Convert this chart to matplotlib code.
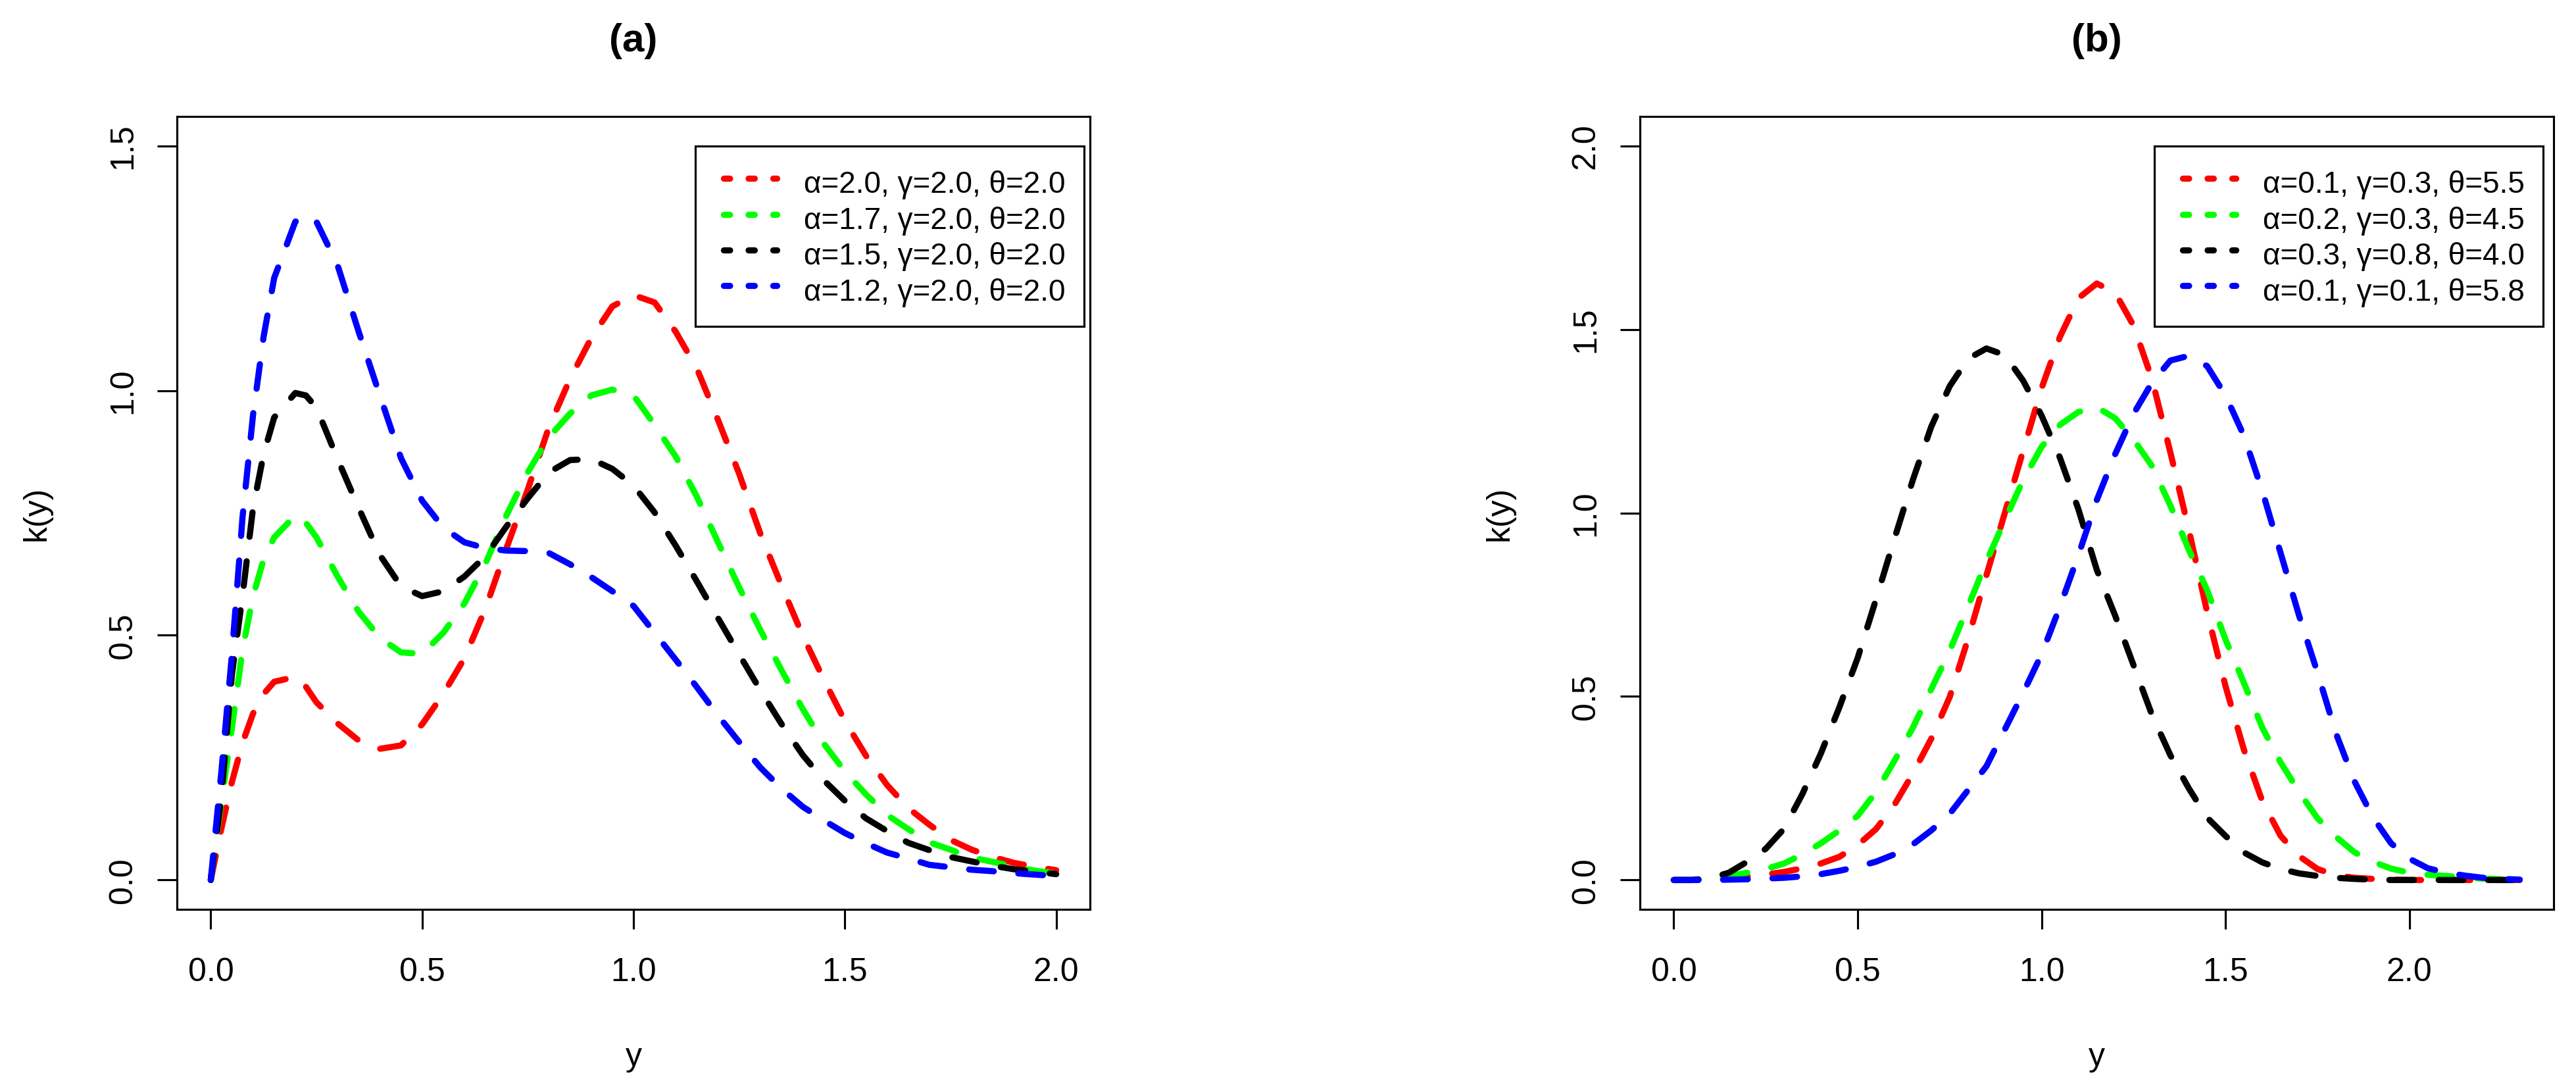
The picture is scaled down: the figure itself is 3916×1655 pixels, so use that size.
import matplotlib
matplotlib.use("Agg")
import matplotlib.pyplot as plt
from matplotlib.lines import Line2D
from matplotlib.ticker import FormatStrFormatter

plt.rcParams["font.family"] = ["Liberation Sans", "DejaVu Sans"]

# ---- panel (a) ----
x_a = [0.0, 0.025, 0.05, 0.075, 0.1, 0.125, 0.15,
       0.2, 0.225, 0.25, 0.3, 0.35, 0.4, 0.45, 0.5, 0.55, 0.6, 0.65, 0.7, 0.75,
       0.8, 0.85, 0.9, 0.95, 1.0, 1.05, 1.1, 1.15, 1.2, 1.25, 1.3, 1.35,
       1.4, 1.45, 1.5, 1.55, 1.6, 1.65, 1.7, 1.75, 1.8, 1.85, 1.9, 1.95, 2.0]
red_a = [0, 0.105, 0.2, 0.28, 0.34, 0.38, 0.405,
         0.415, 0.395, 0.363, 0.32, 0.285, 0.268, 0.275, 0.318, 0.38, 0.453, 0.555,
         0.679, 0.798, 0.925, 1.024, 1.107, 1.172, 1.195, 1.18, 1.12, 1.045,
         0.94, 0.83, 0.708, 0.602, 0.50, 0.41, 0.325, 0.254, 0.194, 0.147,
         0.113, 0.082, 0.062, 0.047, 0.035, 0.027, 0.02]
green_a = [0, 0.16, 0.31, 0.47, 0.58, 0.655, 0.70,
           0.745, 0.73, 0.70, 0.62, 0.548, 0.495, 0.465, 0.462, 0.505, 0.565, 0.647,
           0.746, 0.833, 0.905, 0.953, 0.99, 1.002, 0.99, 0.93, 0.865, 0.783,
           0.69, 0.598, 0.511, 0.429, 0.35, 0.279, 0.222, 0.175, 0.133, 0.104,
           0.077, 0.062, 0.046, 0.037, 0.027, 0.019, 0.013]
black_a = [0, 0.17, 0.42, 0.58, 0.76, 0.87, 0.945,
           0.995, 0.99, 0.965, 0.86, 0.76, 0.664, 0.60, 0.58, 0.59, 0.62, 0.662,
           0.723, 0.78, 0.833, 0.858, 0.86, 0.84, 0.806, 0.751, 0.683, 0.61,
           0.535, 0.461, 0.388, 0.319, 0.256, 0.204, 0.162, 0.126, 0.1, 0.076,
           0.061, 0.047, 0.038, 0.029, 0.022, 0.017, 0.012]
blue_a = [0, 0.22, 0.46, 0.74, 0.95, 1.11, 1.23,
          1.345, 1.357, 1.345, 1.256, 1.12, 0.99, 0.862, 0.775, 0.72, 0.69, 0.678,
          0.673, 0.672, 0.668, 0.645, 0.619, 0.59, 0.56, 0.505, 0.45, 0.394,
          0.336, 0.282, 0.23, 0.187, 0.15, 0.122, 0.096, 0.075, 0.056, 0.044,
          0.031, 0.026, 0.021, 0.018, 0.014, 0.011, 0.008]
labels_a = ["α=2.0, γ=2.0, θ=2.0", "α=1.7, γ=2.0, θ=2.0",
            "α=1.5, γ=2.0, θ=2.0", "α=1.2, γ=2.0, θ=2.0"]

# ---- panel (b) ----
x_b = [0.0, 0.05, 0.1, 0.15, 0.2, 0.25, 0.3, 0.35, 0.4, 0.45, 0.5, 0.55,
       0.6, 0.65, 0.7, 0.75, 0.8, 0.85, 0.9, 0.95, 1.0, 1.05, 1.1, 1.15,
       1.2, 1.25, 1.3, 1.35, 1.4, 1.45, 1.5, 1.55, 1.6, 1.65, 1.7, 1.75,
       1.8, 1.85, 1.9, 1.95, 2.0, 2.05, 2.1, 2.15, 2.2, 2.25, 2.3]
red_b = [0, 0, 0.002, 0.005, 0.01, 0.015, 0.022, 0.032, 0.045, 0.063, 0.095,
         0.139, 0.205, 0.29, 0.385, 0.498, 0.657, 0.83, 1.0, 1.17, 1.34, 1.48,
         1.585, 1.625, 1.6, 1.51, 1.365, 1.165, 0.955, 0.73, 0.528, 0.355,
         0.215, 0.12, 0.065, 0.03, 0.013, 0.006, 0.003, 0.001, 0, 0, 0, 0, 0,
         0, 0]
green_b = [0, 0, 0.004, 0.01, 0.02, 0.03, 0.045, 0.07, 0.1, 0.135, 0.175,
           0.24, 0.325, 0.415, 0.52, 0.624, 0.745, 0.868, 0.98, 1.09, 1.18,
           1.24, 1.275, 1.288, 1.258, 1.2, 1.128, 1.02, 0.9, 0.79, 0.655, 0.537,
           0.415, 0.32, 0.24, 0.168, 0.118, 0.076, 0.05, 0.031, 0.02, 0.014,
           0.011, 0.007, 0.004, 0.002, 0.001]
black_b = [0, 0, 0.005, 0.02, 0.05, 0.085, 0.14, 0.235, 0.345, 0.47, 0.605,
           0.765, 0.93, 1.09, 1.235, 1.345, 1.42, 1.448, 1.43, 1.36, 1.265,
           1.15, 1.01, 0.845, 0.72, 0.585, 0.45, 0.34, 0.25, 0.17, 0.12, 0.075,
           0.048, 0.03, 0.018, 0.011, 0.006, 0.003, 0.001, 0, 0, 0, 0, 0, 0,
           0, 0]
blue_b = [0, 0, 0, 0.001, 0.002, 0.004, 0.006, 0.01, 0.016, 0.025, 0.036,
          0.05, 0.07, 0.097, 0.135, 0.18, 0.245, 0.31, 0.41, 0.51, 0.615,
          0.745, 0.885, 1.035, 1.16, 1.27, 1.355, 1.415, 1.428, 1.4, 1.32,
          1.21, 1.06, 0.89, 0.72, 0.565, 0.4, 0.27, 0.172, 0.1, 0.058, 0.032,
          0.02, 0.012, 0.006, 0.003, 0.001]
labels_b = ["α=0.1, γ=0.3, θ=5.5", "α=0.2, γ=0.3, θ=4.5",
            "α=0.3, γ=0.8, θ=4.0", "α=0.1, γ=0.1, θ=5.8"]

colors = ["#FF0000", "#00FF00", "#000000", "#0000FF"]

W, H = 3916, 1656
DPI = 300
fig = plt.figure(figsize=(W / DPI, H / DPI), dpi=DPI)


def box(left, top, right, bottom):
    # axes placed by pixel edges of the plot box
    return fig.add_axes([left / W, 1 - bottom / H, (right - left) / W, (bottom - top) / H])


def panel(ax, x, series, labels, xmax, ymax, yticks, title, leg_x):
    for y, c in zip(series, colors):
        ax.plot(x, y, color=c, lw=2.25, linestyle=(0, (4, 4)),
                dash_capstyle="round", solid_joinstyle="round")
    ax.set_xlim(-0.04 * xmax, 1.04 * xmax)
    ax.set_ylim(-0.04 * ymax, 1.04 * ymax)
    ax.set_xticks([0.0, 0.5, 1.0, 1.5, 2.0])
    ax.set_yticks(yticks)
    ax.xaxis.set_major_formatter(FormatStrFormatter("%.1f"))
    ax.yaxis.set_major_formatter(FormatStrFormatter("%.1f"))
    ax.tick_params(direction="out", length=7.2, width=0.75, labelsize=12,
                   top=False, right=False)
    ax.tick_params(axis="x", pad=10)
    ax.tick_params(axis="y", pad=7, labelrotation=90)
    for lab in ax.get_yticklabels():
        lab.set_va("center")
    for sp in ax.spines.values():
        sp.set_linewidth(0.75)

    ax.set_title(title, fontsize=14.4, fontweight="bold", pad=24)
    ax.set_xlabel("y", fontsize=12)
    ax.xaxis.set_label_coords(0.5, -0.167)
    ax.set_ylabel("k(y)", fontsize=12)
    ax.yaxis.set_label_coords(-0.137, 0.5)

    # legend keys are dotted, starting inside a gap like R's seg
    handles = [Line2D([], [], color=c, lw=2.25, linestyle=(2.4, (1, 3)),
                      dash_capstyle="round") for c in colors]
    leg = ax.legend(handles, labels, loc="upper right",
                    bbox_to_anchor=(leg_x, 0.9627), bbox_transform=ax.transAxes,
                    borderaxespad=0, fontsize=11, handlelength=2.1,
                    handleheight=1.45, handletextpad=0.9, borderpad=0.61,
                    labelspacing=0, fancybox=False, edgecolor="black",
                    framealpha=1)
    leg.get_frame().set_linewidth(0.75)


ax1 = box(269, 178, 1657, 1383)
panel(ax1, x_a, [red_a, green_a, black_a, blue_a], labels_a,
      2.0, 1.5, [0.0, 0.5, 1.0, 1.5], "(a)", 0.9935)

ax2 = box(2493, 178, 3882, 1383)
panel(ax2, x_b, [red_b, green_b, black_b, blue_b], labels_b,
      2.3, 2.0, [0.0, 0.5, 1.0, 1.5, 2.0], "(b)", 0.9885)

fig.savefig("out.png", dpi=DPI)
